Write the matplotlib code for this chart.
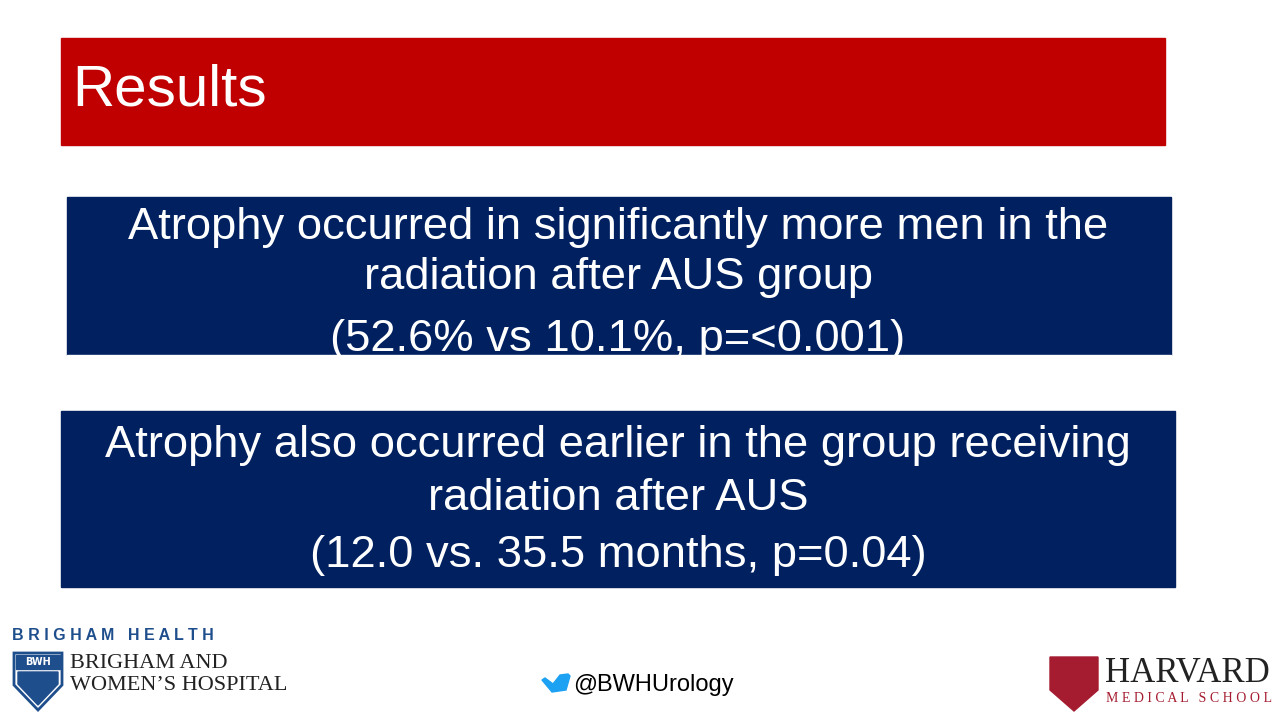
import matplotlib
matplotlib.use("Agg")
import matplotlib.pyplot as plt
from matplotlib.patches import Rectangle, Polygon

# ── Slide content ─────────────────────────────────────────────────────────────
title = "Results"
box1_lines = ["Atrophy occurred in significantly more men in the",
              "radiation after AUS group",
              "(52.6% vs 10.1%, p=<0.001)"]
box2_lines = ["Atrophy also occurred earlier in the group receiving",
              "radiation after AUS",
              "(12.0 vs. 35.5 months, p=0.04)"]
handle = "@BWHUrology"

RED = "#C00000"
NAVY = "#002060"
BWH_BLUE = "#1F4E8C"

fig = plt.figure(figsize=(12.8, 7.2), dpi=100)
ax = fig.add_axes([0, 0, 1, 1])
ax.set_xlim(0, 1280)
ax.set_ylim(720, 0)
ax.axis("off")

# Title bar
ax.add_patch(Rectangle((61, 38), 1104, 107, color=RED))
ax.text(72, 91, title, color="white", fontsize=42, va="center", ha="left",
        family="Liberation Sans")

# Result boxes
ax.add_patch(Rectangle((67, 197), 1104, 158, color=NAVY))
ax.add_patch(Rectangle((61, 411), 1114, 176, color=NAVY))

for y, line in zip([227, 277, 339], box1_lines):
    ax.text(618, y, line, color="white", fontsize=32.7, ha="center", va="center",
            family="Liberation Sans")
for y, line in zip([446, 498, 555], box2_lines):
    ax.text(618, y, line, color="white", fontsize=32.7, ha="center", va="center",
            family="Liberation Sans")
# third line of box 1 is cut at the box bottom
ax.add_patch(Rectangle((67, 355), 1104, 30, color="white", zorder=3))

# Brigham logo
ax.text(12, 636, "B R I G H A M   H E A L T H", color=BWH_BLUE, fontsize=11.5,
        fontweight="bold", ha="left", va="center", family="Liberation Sans")
ax.add_patch(Polygon([(14, 653), (62, 653), (62, 685), (38, 710), (14, 685)],
                     closed=True, facecolor="white", edgecolor=BWH_BLUE, lw=2))
ax.add_patch(Rectangle((16, 655), 44, 14, color=BWH_BLUE))
ax.text(38, 662, "BWH", color="white", fontsize=7, fontweight="bold",
        ha="center", va="center")
ax.add_patch(Polygon([(18, 672), (58, 672), (58, 684), (38, 705), (18, 684)],
                     closed=True, color=BWH_BLUE))
ax.text(70, 663, "BRIGHAM AND", color="#222222", fontsize=16, ha="left",
        va="center", family="Liberation Serif")
ax.text(70, 685, "WOMEN\u2019S HOSPITAL", color="#222222", fontsize=16, ha="left",
        va="center", family="Liberation Serif")

# Twitter handle
ax.add_patch(Polygon([(542, 680), (552, 692), (566, 690), (570, 676), (568, 674),
                      (560, 675), (553, 684), (545, 678)],
                     closed=True, color="#1DA1F2"))
ax.text(573, 685, handle, color="black", fontsize=17, ha="left", va="center",
        family="Liberation Sans")

# Harvard logo
ax.add_patch(Polygon([(1050, 657), (1098, 657), (1098, 690), (1074, 711), (1050, 690)],
                     closed=True, color="#A51C30"))
ax.text(1105, 673, "HARVARD", color="#222222", fontsize=25, ha="left",
        va="center", family="Liberation Serif")
ax.text(1106, 699, "M E D I C A L   S C H O O L", color="#A51C30", fontsize=10,
        ha="left", va="center", family="Liberation Serif")

fig.savefig("out.png", dpi=100)
plt.close(fig)
